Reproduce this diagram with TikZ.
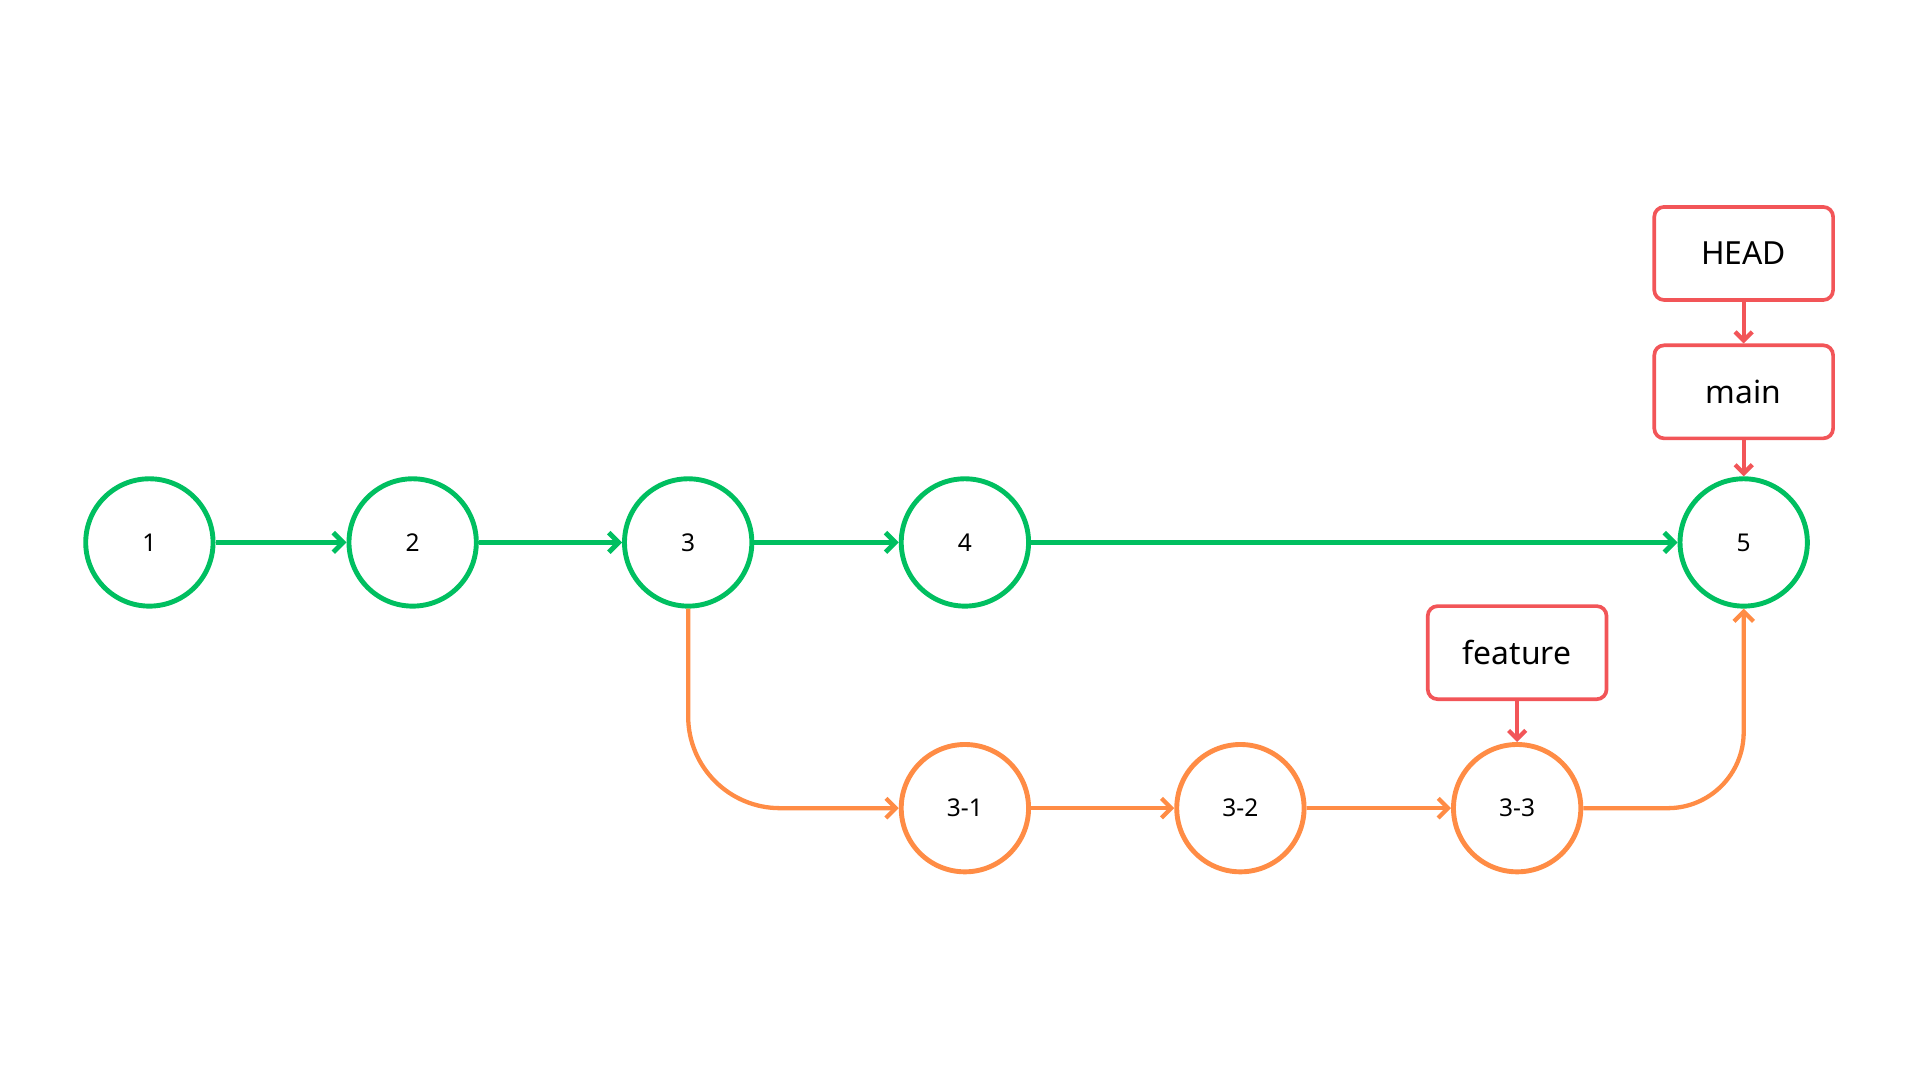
\documentclass[tikz,border=0pt]{standalone}
\usepackage{fontspec}
\setmainfont{Noto Sans}
\usetikzlibrary{arrows.meta}
\definecolor{gr}{HTML}{00BF60}
\definecolor{og}{HTML}{FF8C45}
\definecolor{rd}{HTML}{F25558}
\begin{document}
\begin{tikzpicture}[x=1pt,y=-1pt,
  commit/.style={circle,draw,line width=4pt,minimum size=104pt,inner sep=0pt,font=\bfseries\fontsize{20}{24}\selectfont},
  gc/.style={commit,draw=gr},
  oc/.style={commit,draw=og},
  ref/.style={draw=rd,line width=3pt,rounded corners=8pt,minimum width=146pt,minimum height=76pt,font=\bfseries\fontsize{26}{30}\selectfont},
  ga/.style={draw=gr,line width=4pt,-{Straight Barb[length=8pt,width=16pt]}},
  oa/.style={draw=og,line width=3.5pt,-{Straight Barb[length=8pt,width=16pt]}},
  ra/.style={draw=rd,line width=3.5pt,-{Straight Barb[length=7pt,width=14pt]}}]
\useasboundingbox (0,0) rectangle (1568,882);
\node[gc] (c1) at (122,443) {1};
\node[gc] (c2) at (337,443) {2};
\node[gc] (c3) at (562,443) {3};
\node[gc] (c4) at (788,443) {4};
\node[gc] (c5) at (1424,443) {5};
\node[oc] (d1) at (788,660) {3-1};
\node[oc] (d2) at (1013,660) {3-2};
\node[oc] (d3) at (1239,660) {3-3};
\node[ref] (head) at (1424,207) {HEAD};
\node[ref] (main) at (1424,320) {main};
\node[ref] (feat) at (1239,533) {feature};
\draw[ga] (c1) -- (c2);
\draw[ga] (c2) -- (c3);
\draw[ga] (c3) -- (c4);
\draw[ga] (c4) -- (c5);
\draw[oa] (d1) -- (d2);
\draw[oa] (d2) -- (d3);
\draw[oa,rounded corners=75pt] (c3.south) |- (d1.west);
\draw[oa,rounded corners=62pt] (d3.east) -| (c5.south);
\draw[ra] (head) -- (main);
\draw[ra] (main) -- (c5);
\draw[ra] (feat) -- (d3);
\end{tikzpicture}
\end{document}
